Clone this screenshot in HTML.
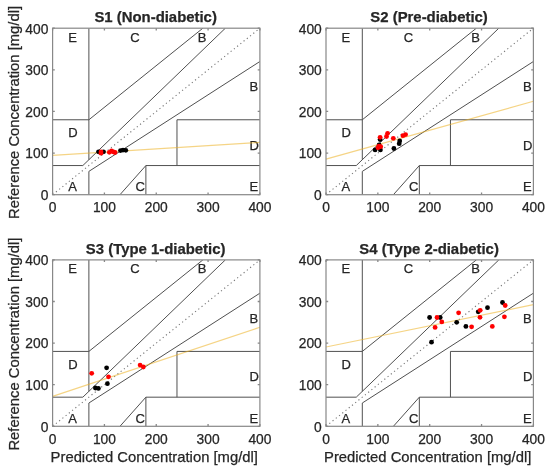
<!DOCTYPE html>
<html><head><meta charset="utf-8"><title>Clarke Error Grid</title>
<style>html,body{margin:0;padding:0;background:#fff;width:550px;height:469px;overflow:hidden}svg{display:block}</style>
</head><body>
<svg width="550" height="469" viewBox="0 0 550 469">
<style>
text{font-family:"Liberation Sans", Arial, Helvetica, sans-serif;fill:#262626;stroke:#262626;stroke-width:0.25px}
.tk{font-size:13.8px}
.lab{font-size:13.0px}
.ti{font-size:14.9px;font-weight:bold}
.xl{font-size:14.8px}
</style>
<rect width="550" height="469" fill="#fff"/>
<clipPath id="c1"><rect x="52.6" y="28.2" width="207.3" height="166.5"/></clipPath><g clip-path="url(#c1)" stroke="#505050" stroke-width="1" fill="none"><line x1="52.6" y1="194.7" x2="259.9" y2="28.2" stroke="#777" stroke-width="1.1" stroke-dasharray="1.2 2.95" stroke-dashoffset="-0.12"/><line x1="52.6" y1="165.56" x2="82.83" y2="165.56"/><line x1="82.83" y1="165.56" x2="225.35" y2="28.2"/><line x1="88.88" y1="159.73" x2="88.88" y2="28.2"/><line x1="52.6" y1="119.77" x2="88.88" y2="119.77"/><line x1="88.88" y1="119.77" x2="202.89" y2="28.2"/><line x1="88.88" y1="194.7" x2="88.88" y2="171.39"/><line x1="88.88" y1="171.39" x2="259.9" y2="61.5"/><line x1="145.88" y1="194.7" x2="145.88" y2="165.56"/><line x1="145.88" y1="165.56" x2="259.9" y2="165.56"/><line x1="176.98" y1="165.56" x2="176.98" y2="119.77"/><line x1="176.98" y1="119.77" x2="259.9" y2="119.77"/><line x1="119.97" y1="194.7" x2="145.88" y2="165.56"/></g><text x="68.15" y="191.38" class="lab">A</text><text x="68.15" y="137.26" class="lab">D</text><text x="68.15" y="41.52" class="lab">E</text><text x="130.34" y="41.52" class="lab">C</text><text x="135.52" y="191.38" class="lab">C</text><text x="249.53" y="191.38" class="lab">E</text><text x="249.53" y="149.75" class="lab">D</text><text x="249.53" y="91.47" class="lab">B</text><text x="197.71" y="41.52" class="lab">B</text><line x1="52.6" y1="155.32" x2="259.9" y2="142.42" stroke="#EDB120" stroke-width="1.2" stroke-opacity="0.55"/><circle cx="98.5" cy="151.8" r="2.4" fill="#000"/><circle cx="103.5" cy="151.8" r="2.4" fill="#000"/><circle cx="120.5" cy="150.6" r="2.4" fill="#000"/><circle cx="123" cy="150.1" r="2.4" fill="#000"/><circle cx="125.8" cy="150.3" r="2.4" fill="#000"/><circle cx="101" cy="151.8" r="2.4" fill="#f00"/><circle cx="101" cy="153.2" r="2.4" fill="#f00"/><circle cx="109.3" cy="152.3" r="2.4" fill="#f00"/><circle cx="111.5" cy="151" r="2.4" fill="#f00"/><circle cx="113.5" cy="151.9" r="2.4" fill="#f00"/><circle cx="115" cy="152.5" r="2.4" fill="#f00"/><rect x="52.6" y="28.2" width="207.3" height="166.5" fill="none" stroke="#888888" stroke-width="1.2"/><path d="M52.6 194.7v-2.2M52.6 28.2v2.2M52.6 194.7h2.2M259.9 194.7h-2.2M104.42 194.7v-2.2M104.42 28.2v2.2M52.6 153.07h2.2M259.9 153.07h-2.2M156.25 194.7v-2.2M156.25 28.2v2.2M52.6 111.45h2.2M259.9 111.45h-2.2M208.07 194.7v-2.2M208.07 28.2v2.2M52.6 69.82h2.2M259.9 69.82h-2.2M259.9 194.7v-2.2M259.9 28.2v2.2M52.6 28.2h2.2M259.9 28.2h-2.2" stroke="#888888" stroke-width="1.3" fill="none"/><text x="52.6" y="212.3" class="tk" text-anchor="middle">0</text><text x="48.4" y="200" class="tk" text-anchor="end">0</text><text x="104.42" y="212.3" class="tk" text-anchor="middle">100</text><text x="48.4" y="158.38" class="tk" text-anchor="end">100</text><text x="156.25" y="212.3" class="tk" text-anchor="middle">200</text><text x="48.4" y="116.75" class="tk" text-anchor="end">200</text><text x="208.07" y="212.3" class="tk" text-anchor="middle">300</text><text x="48.4" y="75.12" class="tk" text-anchor="end">300</text><text x="259.9" y="212.3" class="tk" text-anchor="middle">400</text><text x="48.4" y="33.5" class="tk" text-anchor="end">400</text><text x="155.65" y="22.1" class="ti" text-anchor="middle">S1 (Non-diabetic)</text><text transform="translate(19.4 112.45) rotate(-90)" class="xl" text-anchor="middle">Reference Concentration [mg/dl]</text>
<clipPath id="c2"><rect x="326" y="28.2" width="207.4" height="166.5"/></clipPath><g clip-path="url(#c2)" stroke="#505050" stroke-width="1" fill="none"><line x1="326" y1="194.7" x2="533.4" y2="28.2" stroke="#777" stroke-width="1.1" stroke-dasharray="1.2 2.95" stroke-dashoffset="-0.12"/><line x1="326" y1="165.56" x2="356.25" y2="165.56"/><line x1="356.25" y1="165.56" x2="498.83" y2="28.2"/><line x1="362.3" y1="159.73" x2="362.3" y2="28.2"/><line x1="326" y1="119.77" x2="362.3" y2="119.77"/><line x1="362.3" y1="119.77" x2="476.37" y2="28.2"/><line x1="362.3" y1="194.7" x2="362.3" y2="171.39"/><line x1="362.3" y1="171.39" x2="533.4" y2="61.5"/><line x1="419.33" y1="194.7" x2="419.33" y2="165.56"/><line x1="419.33" y1="165.56" x2="533.4" y2="165.56"/><line x1="450.44" y1="165.56" x2="450.44" y2="119.77"/><line x1="450.44" y1="119.77" x2="533.4" y2="119.77"/><line x1="393.4" y1="194.7" x2="419.33" y2="165.56"/></g><text x="341.56" y="191.38" class="lab">A</text><text x="341.56" y="137.26" class="lab">D</text><text x="341.56" y="41.52" class="lab">E</text><text x="403.77" y="41.52" class="lab">C</text><text x="408.96" y="191.38" class="lab">C</text><text x="523.03" y="191.38" class="lab">E</text><text x="523.03" y="149.75" class="lab">D</text><text x="523.03" y="91.47" class="lab">B</text><text x="471.18" y="41.52" class="lab">B</text><line x1="326" y1="159.19" x2="533.4" y2="101.29" stroke="#EDB120" stroke-width="1.2" stroke-opacity="0.55"/><circle cx="380.1" cy="139.5" r="2.4" fill="#000"/><circle cx="379.1" cy="145" r="2.4" fill="#000"/><circle cx="375.1" cy="149.9" r="2.4" fill="#000"/><circle cx="380.4" cy="149.9" r="2.4" fill="#000"/><circle cx="399.7" cy="141" r="2.4" fill="#000"/><circle cx="399.2" cy="143.7" r="2.4" fill="#000"/><circle cx="393.9" cy="148.5" r="2.4" fill="#000"/><circle cx="380.1" cy="137.3" r="2.4" fill="#f00"/><circle cx="387.6" cy="133.3" r="2.4" fill="#f00"/><circle cx="386.5" cy="136.5" r="2.4" fill="#f00"/><circle cx="393.3" cy="138.3" r="2.4" fill="#f00"/><circle cx="378" cy="147.7" r="2.4" fill="#f00"/><circle cx="380.7" cy="146.7" r="2.4" fill="#f00"/><circle cx="379" cy="146.1" r="2.4" fill="#f00"/><circle cx="402.9" cy="135.7" r="2.4" fill="#f00"/><circle cx="405.6" cy="134.6" r="2.4" fill="#f00"/><rect x="326" y="28.2" width="207.4" height="166.5" fill="none" stroke="#888888" stroke-width="1.2"/><path d="M326 194.7v-2.2M326 28.2v2.2M326 194.7h2.2M533.4 194.7h-2.2M377.85 194.7v-2.2M377.85 28.2v2.2M326 153.07h2.2M533.4 153.07h-2.2M429.7 194.7v-2.2M429.7 28.2v2.2M326 111.45h2.2M533.4 111.45h-2.2M481.55 194.7v-2.2M481.55 28.2v2.2M326 69.82h2.2M533.4 69.82h-2.2M533.4 194.7v-2.2M533.4 28.2v2.2M326 28.2h2.2M533.4 28.2h-2.2" stroke="#888888" stroke-width="1.3" fill="none"/><text x="326" y="212.3" class="tk" text-anchor="middle">0</text><text x="321.8" y="200" class="tk" text-anchor="end">0</text><text x="377.85" y="212.3" class="tk" text-anchor="middle">100</text><text x="321.8" y="158.38" class="tk" text-anchor="end">100</text><text x="429.7" y="212.3" class="tk" text-anchor="middle">200</text><text x="321.8" y="116.75" class="tk" text-anchor="end">200</text><text x="481.55" y="212.3" class="tk" text-anchor="middle">300</text><text x="321.8" y="75.12" class="tk" text-anchor="end">300</text><text x="533.4" y="212.3" class="tk" text-anchor="middle">400</text><text x="321.8" y="33.5" class="tk" text-anchor="end">400</text><text x="429.1" y="22.1" class="ti" text-anchor="middle">S2 (Pre-diabetic)</text>
<clipPath id="c3"><rect x="52.6" y="259.9" width="207.3" height="166.4"/></clipPath><g clip-path="url(#c3)" stroke="#505050" stroke-width="1" fill="none"><line x1="52.6" y1="426.3" x2="259.9" y2="259.9" stroke="#777" stroke-width="1.1" stroke-dasharray="1.2 2.95" stroke-dashoffset="-0.12"/><line x1="52.6" y1="397.18" x2="82.83" y2="397.18"/><line x1="82.83" y1="397.18" x2="225.35" y2="259.9"/><line x1="88.88" y1="391.36" x2="88.88" y2="259.9"/><line x1="52.6" y1="351.42" x2="88.88" y2="351.42"/><line x1="88.88" y1="351.42" x2="202.89" y2="259.9"/><line x1="88.88" y1="426.3" x2="88.88" y2="403"/><line x1="88.88" y1="403" x2="259.9" y2="293.18"/><line x1="145.88" y1="426.3" x2="145.88" y2="397.18"/><line x1="145.88" y1="397.18" x2="259.9" y2="397.18"/><line x1="176.98" y1="397.18" x2="176.98" y2="351.42"/><line x1="176.98" y1="351.42" x2="259.9" y2="351.42"/><line x1="119.97" y1="426.3" x2="145.88" y2="397.18"/></g><text x="68.15" y="422.98" class="lab">A</text><text x="68.15" y="368.9" class="lab">D</text><text x="68.15" y="273.22" class="lab">E</text><text x="130.34" y="273.22" class="lab">C</text><text x="135.52" y="422.98" class="lab">C</text><text x="249.53" y="422.98" class="lab">E</text><text x="249.53" y="381.38" class="lab">D</text><text x="249.53" y="323.14" class="lab">B</text><text x="197.71" y="273.22" class="lab">B</text><line x1="52.6" y1="396.39" x2="259.9" y2="327.29" stroke="#EDB120" stroke-width="1.2" stroke-opacity="0.55"/><circle cx="106.6" cy="367.8" r="2.4" fill="#000"/><circle cx="107.4" cy="383.7" r="2.4" fill="#000"/><circle cx="95.4" cy="388" r="2.4" fill="#000"/><circle cx="98.4" cy="388.4" r="2.4" fill="#000"/><circle cx="91.7" cy="373.3" r="2.4" fill="#f00"/><circle cx="108.5" cy="376.8" r="2.4" fill="#f00"/><circle cx="140.1" cy="365.1" r="2.4" fill="#f00"/><circle cx="143.3" cy="367" r="2.4" fill="#f00"/><rect x="52.6" y="259.9" width="207.3" height="166.4" fill="none" stroke="#888888" stroke-width="1.2"/><path d="M52.6 426.3v-2.2M52.6 259.9v2.2M52.6 426.3h2.2M259.9 426.3h-2.2M104.42 426.3v-2.2M104.42 259.9v2.2M52.6 384.7h2.2M259.9 384.7h-2.2M156.25 426.3v-2.2M156.25 259.9v2.2M52.6 343.1h2.2M259.9 343.1h-2.2M208.07 426.3v-2.2M208.07 259.9v2.2M52.6 301.5h2.2M259.9 301.5h-2.2M259.9 426.3v-2.2M259.9 259.9v2.2M52.6 259.9h2.2M259.9 259.9h-2.2" stroke="#888888" stroke-width="1.3" fill="none"/><text x="52.6" y="443.9" class="tk" text-anchor="middle">0</text><text x="48.4" y="431.6" class="tk" text-anchor="end">0</text><text x="104.42" y="443.9" class="tk" text-anchor="middle">100</text><text x="48.4" y="390" class="tk" text-anchor="end">100</text><text x="156.25" y="443.9" class="tk" text-anchor="middle">200</text><text x="48.4" y="348.4" class="tk" text-anchor="end">200</text><text x="208.07" y="443.9" class="tk" text-anchor="middle">300</text><text x="48.4" y="306.8" class="tk" text-anchor="end">300</text><text x="259.9" y="443.9" class="tk" text-anchor="middle">400</text><text x="48.4" y="265.2" class="tk" text-anchor="end">400</text><text x="155.65" y="253.8" class="ti" text-anchor="middle">S3 (Type 1-diabetic)</text><text transform="translate(19.4 344.1) rotate(-90)" class="xl" text-anchor="middle">Reference Concentration [mg/dl]</text><text x="154.25" y="461.8" class="xl" text-anchor="middle">Predicted Concentration [mg/dl]</text>
<clipPath id="c4"><rect x="326" y="259.9" width="207.4" height="166.4"/></clipPath><g clip-path="url(#c4)" stroke="#505050" stroke-width="1" fill="none"><line x1="326" y1="426.3" x2="533.4" y2="259.9" stroke="#777" stroke-width="1.1" stroke-dasharray="1.2 2.95" stroke-dashoffset="-0.12"/><line x1="326" y1="397.18" x2="356.25" y2="397.18"/><line x1="356.25" y1="397.18" x2="498.83" y2="259.9"/><line x1="362.3" y1="391.36" x2="362.3" y2="259.9"/><line x1="326" y1="351.42" x2="362.3" y2="351.42"/><line x1="362.3" y1="351.42" x2="476.37" y2="259.9"/><line x1="362.3" y1="426.3" x2="362.3" y2="403"/><line x1="362.3" y1="403" x2="533.4" y2="293.18"/><line x1="419.33" y1="426.3" x2="419.33" y2="397.18"/><line x1="419.33" y1="397.18" x2="533.4" y2="397.18"/><line x1="450.44" y1="397.18" x2="450.44" y2="351.42"/><line x1="450.44" y1="351.42" x2="533.4" y2="351.42"/><line x1="393.4" y1="426.3" x2="419.33" y2="397.18"/></g><text x="341.56" y="422.98" class="lab">A</text><text x="341.56" y="368.9" class="lab">D</text><text x="341.56" y="273.22" class="lab">E</text><text x="403.77" y="273.22" class="lab">C</text><text x="408.96" y="422.98" class="lab">C</text><text x="523.03" y="422.98" class="lab">E</text><text x="523.03" y="381.38" class="lab">D</text><text x="523.03" y="323.14" class="lab">B</text><text x="471.18" y="273.22" class="lab">B</text><line x1="326" y1="347.01" x2="533.4" y2="304.7" stroke="#EDB120" stroke-width="1.2" stroke-opacity="0.55"/><circle cx="429.6" cy="317.5" r="2.4" fill="#000"/><circle cx="440.2" cy="317.5" r="2.4" fill="#000"/><circle cx="456.7" cy="322.3" r="2.4" fill="#000"/><circle cx="431.5" cy="342.2" r="2.4" fill="#000"/><circle cx="478.2" cy="311.8" r="2.4" fill="#000"/><circle cx="487.5" cy="307.7" r="2.4" fill="#000"/><circle cx="502.5" cy="302.5" r="2.4" fill="#000"/><circle cx="465.9" cy="326.4" r="2.4" fill="#000"/><circle cx="437" cy="317.5" r="2.4" fill="#f00"/><circle cx="441.8" cy="321.9" r="2.4" fill="#f00"/><circle cx="435.1" cy="327.4" r="2.4" fill="#f00"/><circle cx="458.6" cy="312.8" r="2.4" fill="#f00"/><circle cx="480.2" cy="310.3" r="2.4" fill="#f00"/><circle cx="480" cy="317.3" r="2.4" fill="#f00"/><circle cx="504.4" cy="316.8" r="2.4" fill="#f00"/><circle cx="471.6" cy="326.8" r="2.4" fill="#f00"/><circle cx="492.3" cy="326.4" r="2.4" fill="#f00"/><circle cx="505.2" cy="305.5" r="2.4" fill="#f00"/><rect x="326" y="259.9" width="207.4" height="166.4" fill="none" stroke="#888888" stroke-width="1.2"/><path d="M326 426.3v-2.2M326 259.9v2.2M326 426.3h2.2M533.4 426.3h-2.2M377.85 426.3v-2.2M377.85 259.9v2.2M326 384.7h2.2M533.4 384.7h-2.2M429.7 426.3v-2.2M429.7 259.9v2.2M326 343.1h2.2M533.4 343.1h-2.2M481.55 426.3v-2.2M481.55 259.9v2.2M326 301.5h2.2M533.4 301.5h-2.2M533.4 426.3v-2.2M533.4 259.9v2.2M326 259.9h2.2M533.4 259.9h-2.2" stroke="#888888" stroke-width="1.3" fill="none"/><text x="326" y="443.9" class="tk" text-anchor="middle">0</text><text x="321.8" y="431.6" class="tk" text-anchor="end">0</text><text x="377.85" y="443.9" class="tk" text-anchor="middle">100</text><text x="321.8" y="390" class="tk" text-anchor="end">100</text><text x="429.7" y="443.9" class="tk" text-anchor="middle">200</text><text x="321.8" y="348.4" class="tk" text-anchor="end">200</text><text x="481.55" y="443.9" class="tk" text-anchor="middle">300</text><text x="321.8" y="306.8" class="tk" text-anchor="end">300</text><text x="533.4" y="443.9" class="tk" text-anchor="middle">400</text><text x="321.8" y="265.2" class="tk" text-anchor="end">400</text><text x="429.1" y="253.8" class="ti" text-anchor="middle">S4 (Type 2-diabetic)</text><text x="427.7" y="461.8" class="xl" text-anchor="middle">Predicted Concentration [mg/dl]</text>
</svg>
</body></html>
